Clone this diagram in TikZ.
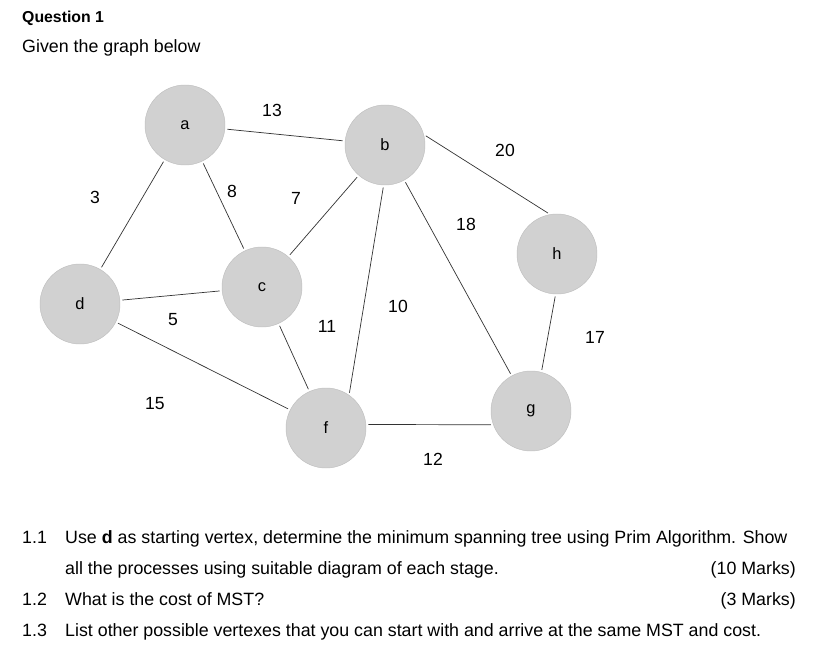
\documentclass[tikz,border=0pt]{standalone}
\usepackage{fontspec}
\setmainfont{Liberation Sans}
\begin{document}
\begin{tikzpicture}[x=0.03cm,y=-0.03cm,
 v/.style={circle,fill=black!18,draw=black!25,minimum size=2.4cm,inner sep=0pt,font=\fontsize{14}{16}\selectfont},
 e/.style={draw=black!80,line width=0.6pt,shorten >=2pt,shorten <=2pt},
 w/.style={font=\fontsize{15}{17}\selectfont,inner sep=1pt},
 t/.style={font=\fontsize{15.2}{18}\selectfont,anchor=base west,inner sep=0pt}]
\path[use as bounding box] (0,0) rectangle (819,651);
\node[font=\bfseries\fontsize{13.5}{16}\selectfont,anchor=base west,inner sep=0pt] (q) at (22,23) {Question 1};
\node[t] (gv) at (22,53) {Given the graph below};
\node[v] (a) at (185,125) {a};
\node[v] (b) at (385,145) {b};
\node[v] (c) at (262,287) {c};
\node[v] (d) at (80,304) {d};
\node[v] (f) at (326,428) {f};
\node[v] (g) at (531,411) {g};
\node[v] (h) at (557,254) {h};
\draw[e] (a)--(b); \draw[e] (a)--(d); \draw[e] (a)--(c); \draw[e] (b)--(c);
\draw[e] (b.15)--(h.100); \draw[e] (b)--(g); \draw[e] (b.268)--(f.55); \draw[e] (c)--(d);
\draw[e] (c)--(f); \draw[e] (d)--(f); \draw[e] (f.5)--(g.200); \draw[e] (h.268)--(g.75);
\node[w] (w1) at (272,110) {13};
\node[w,fill=white] (w2) at (95,197) {3};
\node[w] (w3) at (232,191) {8};
\node[w] (w4) at (296,198) {7};
\node[w] (w5) at (505,150) {20};
\node[w,fill=white] (w6) at (466,224) {18};
\node[w] (w7) at (398,306) {10};
\node[w] (w8) at (173,320) {5};
\node[w,fill=white] (w9) at (327,326) {11};
\node[w] (w10) at (155,404) {15};
\node[w] (w11) at (433,459) {12};
\node[w] (w12) at (595,337) {17};
\node[t] (n1) at (22,543) {1.1};
\node[t] (l1) at (65,543) {Use \textbf{d} as starting vertex, determine the minimum spanning tree using Prim Algorithm. Show};
\node[t] (l1b) at (65,574) {all the processes using suitable diagram of each stage.};
\node[t,anchor=base east] (m1) at (796,574) {(10 Marks)};
\node[t] (n2) at (22,605) {1.2};
\node[t] (l2) at (65,605) {What is the cost of MST?};
\node[t,anchor=base east] (m2) at (796,605) {(3 Marks)};
\node[t] (n3) at (22,636) {1.3};
\node[t] (l3) at (65,636) {List other possible vertexes that you can start with and arrive at the same MST and cost.};
\end{tikzpicture}
\end{document}
